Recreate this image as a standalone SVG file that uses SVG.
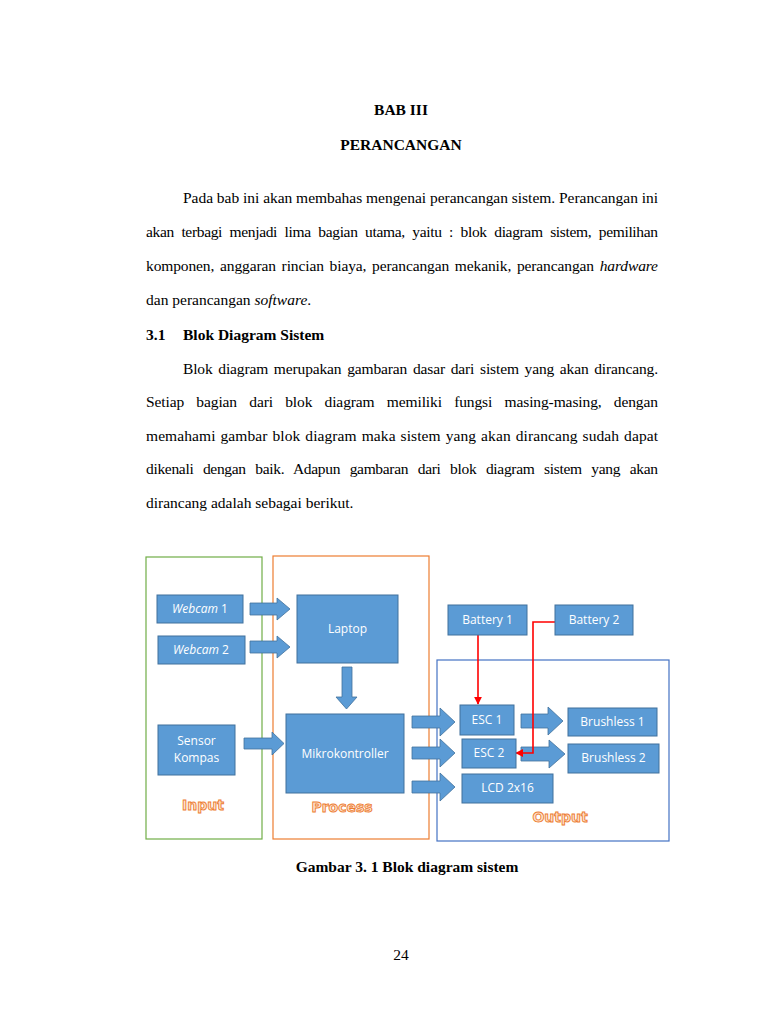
<svg xmlns="http://www.w3.org/2000/svg" width="768" height="1024" viewBox="0 0 768 1024">
<defs>
<style>
.t{font-family:"Liberation Serif","Times New Roman",serif;font-size:15.5px;fill:#000}
.b{font-weight:bold}
.box{fill:#5b9bd5;stroke:#41719c;stroke-width:1}
.lbl{font-family:"Open Sans","Liberation Sans",sans-serif;font-size:12px;fill:#fff;text-anchor:middle}
.arr{fill:#5b9bd5;stroke:#41719c;stroke-width:0.8}
.wa{font-family:"DejaVu Sans","Liberation Sans",sans-serif;font-weight:bold;font-size:14px;fill:#fde3cf;stroke:#ed7d31;stroke-width:0.9;text-anchor:middle}
.red{fill:none;stroke:#ff0000;stroke-width:1.6}
</style>
<marker id="rh" viewBox="0 0 10 10" refX="9" refY="5" markerWidth="5" markerHeight="5" orient="auto" markerUnits="strokeWidth">
<path d="M0,0 L10,5 L0,10 z" fill="#ff0000"/>
</marker>
</defs>
<rect width="768" height="1024" fill="#fff"/>

<g id="text">
<text class="t b" x="401" y="115" text-anchor="middle">BAB III</text>
<text class="t b" x="401" y="150" text-anchor="middle">PERANCANGAN</text>
<text class="t" x="183" y="203" textLength="475" lengthAdjust="spacing">Pada bab ini akan membahas mengenai perancangan sistem. Perancangan ini</text>
<text class="t" x="146" y="237" word-spacing="4" textLength="512" lengthAdjust="spacing">akan terbagi menjadi lima bagian utama, yaitu : blok diagram sistem, pemilihan</text>
<text class="t" x="146" y="271" word-spacing="2" textLength="512" lengthAdjust="spacing">komponen, anggaran rincian biaya, perancangan mekanik, perancangan <tspan font-style="italic">hardware</tspan></text>
<text class="t" x="146" y="305">dan perancangan <tspan font-style="italic">software</tspan>.</text>
<text class="t b" x="146" y="340">3.1</text>
<text class="t b" x="183" y="340">Blok Diagram Sistem</text>
<text class="t" x="183" y="374" word-spacing="2" textLength="475" lengthAdjust="spacing">Blok diagram merupakan gambaran dasar dari sistem yang akan dirancang.</text>
<text class="t" x="146" y="407" word-spacing="8.5" textLength="512" lengthAdjust="spacing">Setiap bagian dari blok diagram memiliki fungsi masing-masing, dengan</text>
<text class="t" x="146" y="441" word-spacing="1" textLength="512" lengthAdjust="spacing">memahami gambar blok diagram maka sistem yang akan dirancang sudah dapat</text>
<text class="t" x="146" y="474" word-spacing="6" textLength="512" lengthAdjust="spacing">dikenali dengan baik. Adapun gambaran dari blok diagram sistem yang akan</text>
<text class="t" x="146" y="508">dirancang adalah sebagai berikut.</text>
<text class="t b" x="407" y="872" text-anchor="middle">Gambar 3. 1 Blok diagram sistem</text>
<text class="t" x="401" y="960" text-anchor="middle">24</text>
</g>

<g id="groups">
<rect id="input-group" x="146" y="557" width="116" height="282" fill="none" stroke="#70ad47" stroke-width="1.2"/>
<rect id="process-group" x="273" y="556" width="156" height="283" fill="none" stroke="#ed7d31" stroke-width="1.2"/>
<rect id="output-group" x="437" y="660" width="232" height="181" fill="none" stroke="#4472c4" stroke-width="1.2"/>
<text class="wa" x="203" y="810">Input</text>
<text class="wa" x="342" y="812">Process</text>
<text class="wa" x="560" y="822">Output</text>
</g>

<g id="connectors">
<polygon class="arr" points="250,603 277,603 277,598 290,609 277,620 277,615 250,615"/>
<polygon class="arr" points="250,641 277,641 277,636 290,647 277,658 277,653 250,653"/>
<polygon class="arr" points="342,667 352,667 352,697 357,697 346.5,709 336,697 342,697"/>
<polygon class="arr" points="244,738 272,738 272,732 284,743.5 272,755 272,749 244,749"/>
<polygon class="arr" points="412,716 440,716 440,708 455,722 440,736 440,728 412,728"/>
<polygon class="arr" points="412,747 440,747 440,739 455,753 440,767 440,759 412,759"/>
<polygon class="arr" points="412,781 440,781 440,773 455,787 440,801 440,793 412,793"/>
<polygon class="arr" points="521,714 548,714 548,707 563,721 548,735 548,728 521,728"/>
<polygon class="arr" points="521,747 549,747 549,740 565,754 549,768 549,761 521,761"/>
<path class="red" d="M478,635 V704" marker-end="url(#rh)"/>
<path class="red" d="M555,622 H533 V753 H516" marker-end="url(#rh)"/>
</g>

<g id="webcam1"><rect class="box" x="157" y="595" width="86" height="28"/><text class="lbl" x="200" y="613"><tspan font-style="italic">Webcam</tspan> 1</text></g>
<g id="webcam2"><rect class="box" x="158" y="636" width="87" height="28"/><text class="lbl" x="201" y="654"><tspan font-style="italic">Webcam</tspan> 2</text></g>
<g id="sensor"><rect class="box" x="158" y="725" width="77" height="50"/><text class="lbl" x="196.5" y="745">Sensor</text><text class="lbl" x="196.5" y="762">Kompas</text></g>
<g id="laptop"><rect class="box" x="297" y="595" width="101" height="68"/><text class="lbl" x="347.5" y="633">Laptop</text></g>
<g id="mikro"><rect class="box" x="286" y="714" width="118" height="79"/><text class="lbl" x="345" y="758">Mikrokontroller</text></g>
<g id="battery1"><rect class="box" x="448" y="605" width="79" height="30"/><text class="lbl" x="487.5" y="624">Battery 1</text></g>
<g id="battery2"><rect class="box" x="555" y="605" width="78" height="30"/><text class="lbl" x="594" y="624">Battery 2</text></g>
<g id="esc1"><rect class="box" x="460" y="705" width="54" height="30"/><text class="lbl" x="487" y="724">ESC 1</text></g>
<g id="esc2"><rect class="box" x="462" y="739" width="54" height="29"/><text class="lbl" x="489" y="757">ESC 2</text></g>
<g id="lcd"><rect class="box" x="462" y="774" width="91" height="29"/><text class="lbl" x="507.5" y="792">LCD 2x16</text></g>
<g id="brushless1"><rect class="box" x="568" y="708" width="89" height="28"/><text class="lbl" x="612.5" y="726">Brushless 1</text></g>
<g id="brushless2"><rect class="box" x="568" y="744" width="91" height="29"/><text class="lbl" x="613.5" y="762">Brushless 2</text></g>
</svg>
